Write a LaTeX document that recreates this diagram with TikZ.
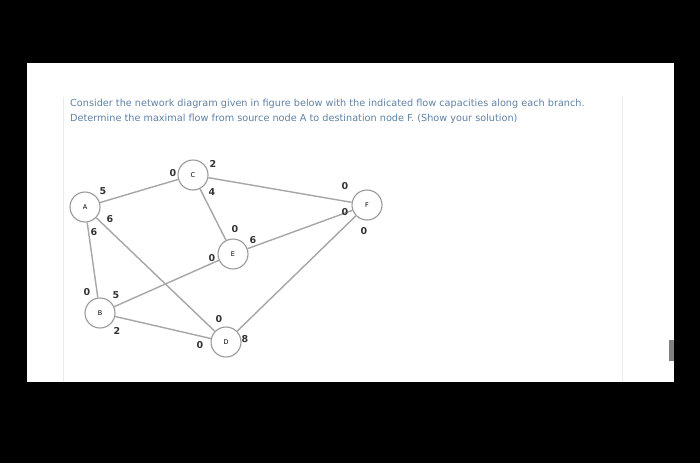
\documentclass[tikz,border=0pt]{standalone}
\usepackage{fontspec}
\setmainfont{DejaVu Sans}
\begin{document}
\begin{tikzpicture}[x=1pt,y=-1pt,
  nd/.style={circle,draw=black!40,line width=1.1pt,minimum size=30pt,inner sep=0pt,font=\fontsize{6.5}{6.5}\selectfont,fill=white},
  ed/.style={draw=black!35,line width=1.4pt},
  lb/.style={font=\bfseries\fontsize{9.5}{10}\selectfont,text=black!80,inner sep=0pt},
  tx/.style={font=\fontsize{9.7}{10}\selectfont,text={rgb,255:red,95;green,130;blue,165},anchor=west,inner sep=0pt}]
\useasboundingbox (0,0) rectangle (700,463);
\fill[black] (0,0) rectangle (700,463);
\fill[white] (27,63) rectangle (674,382);
\draw[black!8,line width=0.8pt] (63,97) -- (63,382);
\draw[black!8,line width=0.8pt] (622,97) -- (622,382);
\fill[black!50] (669,340) rectangle (674,361);
\node[tx] (t1) at (70,104) {Consider the network diagram given in figure below with the indicated flow capacities along each branch.};
\node[tx] (t2) at (70,119) {Determine the maximal flow from source node A to destination node F. (Show your solution)};
\node[nd] (A) at (85,207) {A};
\node[nd] (C) at (193,175) {C};
\node[nd] (E) at (233,254) {E};
\node[nd] (B) at (100,313) {B};
\node[nd] (D) at (226,342) {D};
\node[nd] (F) at (367,205) {F};
\draw[ed] (A) -- (C);
\draw[ed] (A) -- (B);
\draw[ed] (A) -- (D);
\draw[ed] (C) -- (F);
\draw[ed] (C) -- (E);
\draw[ed] (E) -- (F);
\draw[ed] (B) -- (E);
\draw[ed] (B) -- (D);
\draw[ed] (D) -- (F);
\node[lb] (lA1) at (103,191) {5};
\node[lb] (lA2) at (110,219) {6};
\node[lb] (lA3) at (94,232) {6};
\node[lb] (lC1) at (173,173) {0};
\node[lb] (lC2) at (213,164) {2};
\node[lb] (lC3) at (212,192) {4};
\node[lb] (lE1) at (235,229) {0};
\node[lb] (lE2) at (253,240) {6};
\node[lb] (lE3) at (212,258) {0};
\node[lb] (lB1) at (87,292) {0};
\node[lb] (lB2) at (116,295) {5};
\node[lb] (lB3) at (117,331) {2};
\node[lb] (lD1) at (219,319) {0};
\node[lb] (lD2) at (200,345) {0};
\node[lb] (lD3) at (245,339) {8};
\node[lb] (lF1) at (345,186) {0};
\node[lb] (lF2) at (345,212) {0};
\node[lb] (lF3) at (364,231) {0};
\end{tikzpicture}
\end{document}
